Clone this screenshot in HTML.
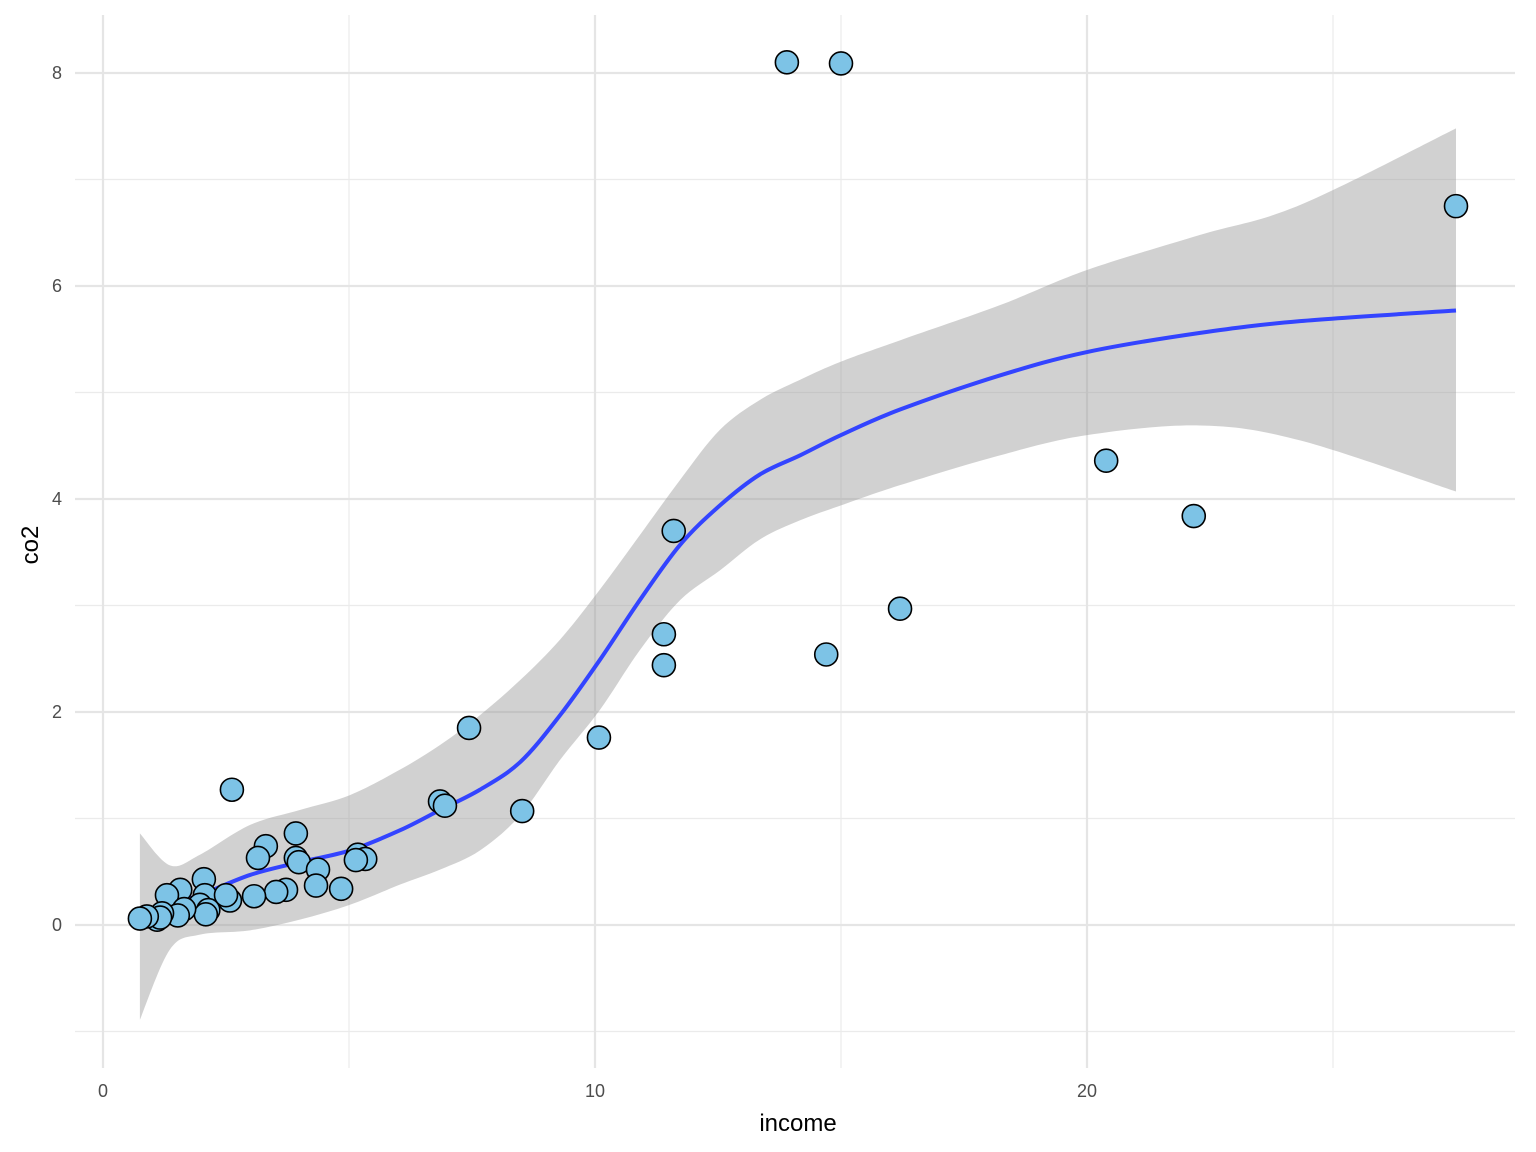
<!DOCTYPE html>
<html><head><meta charset="utf-8"><style>
body{margin:0;background:#fff}
svg{display:block}
text{font-family:"Liberation Sans",sans-serif}
</style></head><body>
<svg id="chart" width="1536" height="1152" xmlns="http://www.w3.org/2000/svg">
<g id="grid"></g>
<g id="band"></g>
<g id="line"></g>
<g id="pts"></g>
<g id="ticks"></g>
<text x="798" y="1131" font-size="24" text-anchor="middle" fill="#000">income</text>
<text transform="translate(38,545) rotate(-90)" font-size="24" text-anchor="middle" fill="#000">co2</text>
</svg>
<script>
const ptX=[13.9,15.0,27.5,20.39,22.17,16.2,14.7,11.6,11.4,11.4,10.08,7.44,8.52,6.85,6.95,2.62,3.92,3.31,3.15,3.92,3.98,4.37,5.18,5.33,5.14,4.33,4.84,3.72,3.52,3.07,2.58,2.05,2.07,1.97,2.14,2.09,1.57,1.30,1.65,1.52,1.20,1.10,1.16,0.89,0.75,2.5];
const ptY=[8.10,8.09,6.75,4.36,3.84,2.97,2.54,3.70,2.73,2.44,1.76,1.85,1.07,1.16,1.12,1.27,0.86,0.74,0.63,0.63,0.59,0.52,0.66,0.62,0.61,0.37,0.34,0.33,0.31,0.27,0.23,0.43,0.28,0.19,0.14,0.10,0.33,0.28,0.15,0.09,0.11,0.05,0.07,0.08,0.06,0.28];
const fitX=[0.75,1.36,1.97,2.99,4.00,5.02,6.04,6.85,7.66,8.48,9.29,10.10,10.91,11.73,12.54,13.35,14.17,15.0,16.2,18.23,20.0,22.3,24.33,27.5];
const fitY=[0,0.19,0.28,0.47,0.59,0.70,0.89,1.08,1.27,1.53,1.97,2.49,3.05,3.57,3.94,4.23,4.41,4.60,4.84,5.16,5.38,5.56,5.67,5.77];
const upY=[0.86,0.56,0.66,0.94,1.08,1.22,1.46,1.69,1.97,2.30,2.68,3.15,3.66,4.18,4.65,4.93,5.12,5.29,5.49,5.82,6.15,6.48,6.76,7.48];
const loY=[-0.89,-0.23,-0.09,-0.05,0.05,0.19,0.38,0.52,0.70,1.03,1.55,2.02,2.58,3.05,3.33,3.62,3.80,3.94,4.13,4.41,4.60,4.69,4.55,4.07];
const xTicks=[0,10,20];
const yTicks=[0,2,4,6,8];
const xMinor=[5,15,25];
const yMinor=[-1,1,3,5,7];

const sx=v=>103+v*49.2;
const sy=v=>925-v*106.5;
const NS="http://www.w3.org/2000/svg";
function mk(tag,attrs,parent){const e=document.createElementNS(NS,tag);for(const k in attrs)e.setAttribute(k,attrs[k]);parent.appendChild(e);return e;}
const grid=document.getElementById('grid');
xMinor.forEach(v=>{const l=mk('line',{x1:sx(v),x2:sx(v),y1:15,y2:1068,stroke:'#ebebeb','stroke-width':1.2},grid);

});
yMinor.forEach(v=>{const l=mk('line',{x1:75,x2:1515,y1:sy(v),y2:sy(v),stroke:'#ebebeb','stroke-width':1.2},grid);

});
xTicks.forEach(v=>{const l=mk('line',{x1:sx(v),x2:sx(v),y1:15,y2:1068,stroke:'#e5e5e5','stroke-width':2.2},grid);

});
yTicks.forEach(v=>{const l=mk('line',{x1:75,x2:1515,y1:sy(v),y2:sy(v),stroke:'#e5e5e5','stroke-width':2.2},grid);

});
const ticks=document.getElementById('ticks');
xTicks.forEach(v=>{const t=mk('text',{x:sx(v),y:1097,'font-size':18,'text-anchor':'middle',fill:'#4d4d4d'},ticks);t.textContent=v;

});
yTicks.forEach(v=>{const t=mk('text',{x:62,y:sy(v)+6,'font-size':18,'text-anchor':'end',fill:'#4d4d4d'},ticks);t.textContent=v;

});
function smooth(xs,ys){let d='';const P=xs.map((x,i)=>[sx(x),sy(ys[i])]);
for(let i=0;i<P.length;i++){if(i===0){d+='M'+P[0][0]+','+P[0][1];continue;}
const p0=P[Math.max(i-2,0)],p1=P[i-1],p2=P[i],p3=P[Math.min(i+1,P.length-1)];
d+=' C'+(p1[0]+(p2[0]-p0[0])/6)+','+(p1[1]+(p2[1]-p0[1])/6)+' '+(p2[0]-(p3[0]-p1[0])/6)+','+(p2[1]-(p3[1]-p1[1])/6)+' '+p2[0]+','+p2[1];}
return d;}
const up=smooth(fitX,upY);
const lo=smooth(fitX.slice().reverse(),loY.slice().reverse());
const band=mk('path',{d:up+' L'+lo.slice(1)+' Z',fill:'#999','fill-opacity':0.45},document.getElementById('band'));


const ln=mk('path',{d:smooth(fitX,fitY),fill:'none',stroke:'#3344ff','stroke-width':4},document.getElementById('line'));


const pts=document.getElementById('pts');
ptX.forEach((x,i)=>{const c=mk('circle',{cx:sx(x),cy:sy(ptY[i]),r:11.5,fill:'#7dc3e6',stroke:'#000','stroke-width':1.6},pts);

});
</script>
</body></html>
